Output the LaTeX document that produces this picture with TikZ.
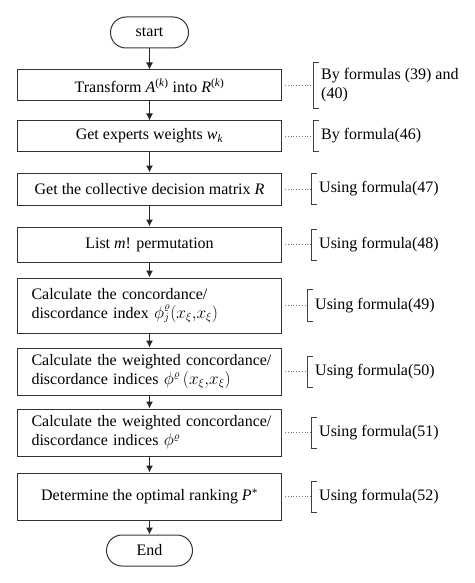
\documentclass[tikz,border=0pt]{standalone}
\usepackage{fontspec}
\setmainfont{Liberation Serif}
\usetikzlibrary{shapes.misc,arrows.meta,calc}
\newcommand\notebr[4]{%
  \path let \p1=(#1.east) in coordinate (#1k) at (#2pt,\y1);
  \draw[dots] ([xshift=3pt]#1.east) -- (#1k);
  \draw[brk] ([xshift=6pt,yshift=#3pt]#1k) -- ([yshift=#3pt]#1k) -- ([yshift=-#3pt]#1k) -- ([xshift=6pt,yshift=-#3pt]#1k);
  \node[note] (#1n) at ([xshift=8pt]#1k) {#4};
}
\begin{document}
\begin{tikzpicture}[x=1pt,y=-1pt,
  txt/.style={font=\fontsize{16}{19}\selectfont},
  stepbox/.style={txt,draw=black!80,line width=1pt,minimum width=264pt,inner sep=0pt},
  twoline/.style={stepbox,text width=236pt,align=left},
  term/.style={txt,draw=black!80,line width=1pt,rounded rectangle,inner sep=0pt,minimum height=31pt},
  flow/.style={-{Latex[length=7pt,width=7pt]},line width=1pt,black!85},
  note/.style={txt,anchor=west,align=left,inner sep=0pt},
  dots/.style={dotted,draw=black!55,line width=0.8pt},
  brk/.style={draw=black!75,line width=1pt}]
\useasboundingbox (0,0) rectangle (474,583);
\node[term,minimum width=78pt] (start) at (149.5,32.5) {start};
\node[stepbox,minimum height=31pt] (b1) at (149.5,85.5) {Transform \textit{A}\textsuperscript{(\textit{k})} into \textit{R}\textsuperscript{(\textit{k})}};
\node[stepbox,minimum height=30pt] (b2) at (149.5,136) {Get experts weights \textit{w}\textsubscript{\textit{k}}};
\node[stepbox,minimum height=32pt] (b3) at (149.5,189) {Get the collective decision matrix \textit{R}};
\node[stepbox,minimum height=35pt] (b4) at (149.5,244.5) {List \textit{m}! permutation};
\node[twoline,minimum height=55pt] (b5) at (149.5,305.5) {\mbox{Calculate the concordance/}\\\mbox{discordance index $\phi_j^{\varrho}(x_\xi{,}x_\xi)$}};
\node[twoline,minimum height=47pt] (b6) at (149.5,371.5) {\mbox{Calculate the weighted concordance/}\\\mbox{discordance indices $\phi^{\varrho}\,(x_\xi{,}x_\xi)$}};
\node[twoline,minimum height=47pt] (b7) at (149.5,432.5) {\mbox{Calculate the weighted concordance/}\\\mbox{discordance indices $\phi^{\varrho}$}};
\node[stepbox,minimum height=47pt] (b8) at (149.5,496.5) {Determine the optimal ranking \textit{P}\textsuperscript{\raisebox{-0.35ex}{*}}};
\node[term,minimum width=86pt] (end) at (149.5,550.5) {End};
\draw[flow] (start) -- (b1);
\draw[flow] (b1) -- (b2);
\draw[flow] (b2) -- (b3);
\draw[flow] (b3) -- (b4);
\draw[flow] (b4) -- (b5);
\draw[flow] (b5) -- (b6);
\draw[flow] (b6) -- (b7);
\draw[flow] (b7) -- (b8);
\draw[flow] (b8) -- (end);
\notebr{b1}{313}{23}{By formulas (39) and\\(40)}
\notebr{b2}{313}{15.5}{By formula(46)}
\notebr{b3}{311}{15.5}{Using formula(47)}
\notebr{b4}{311}{15.5}{Using formula(48)}
\notebr{b5}{307}{16}{Using formula(49)}
\notebr{b6}{307}{15.5}{Using formula(50)}
\notebr{b7}{311}{15.5}{Using formula(51)}
\notebr{b8}{311}{15.5}{Using formula(52)}
\end{tikzpicture}
\end{document}
